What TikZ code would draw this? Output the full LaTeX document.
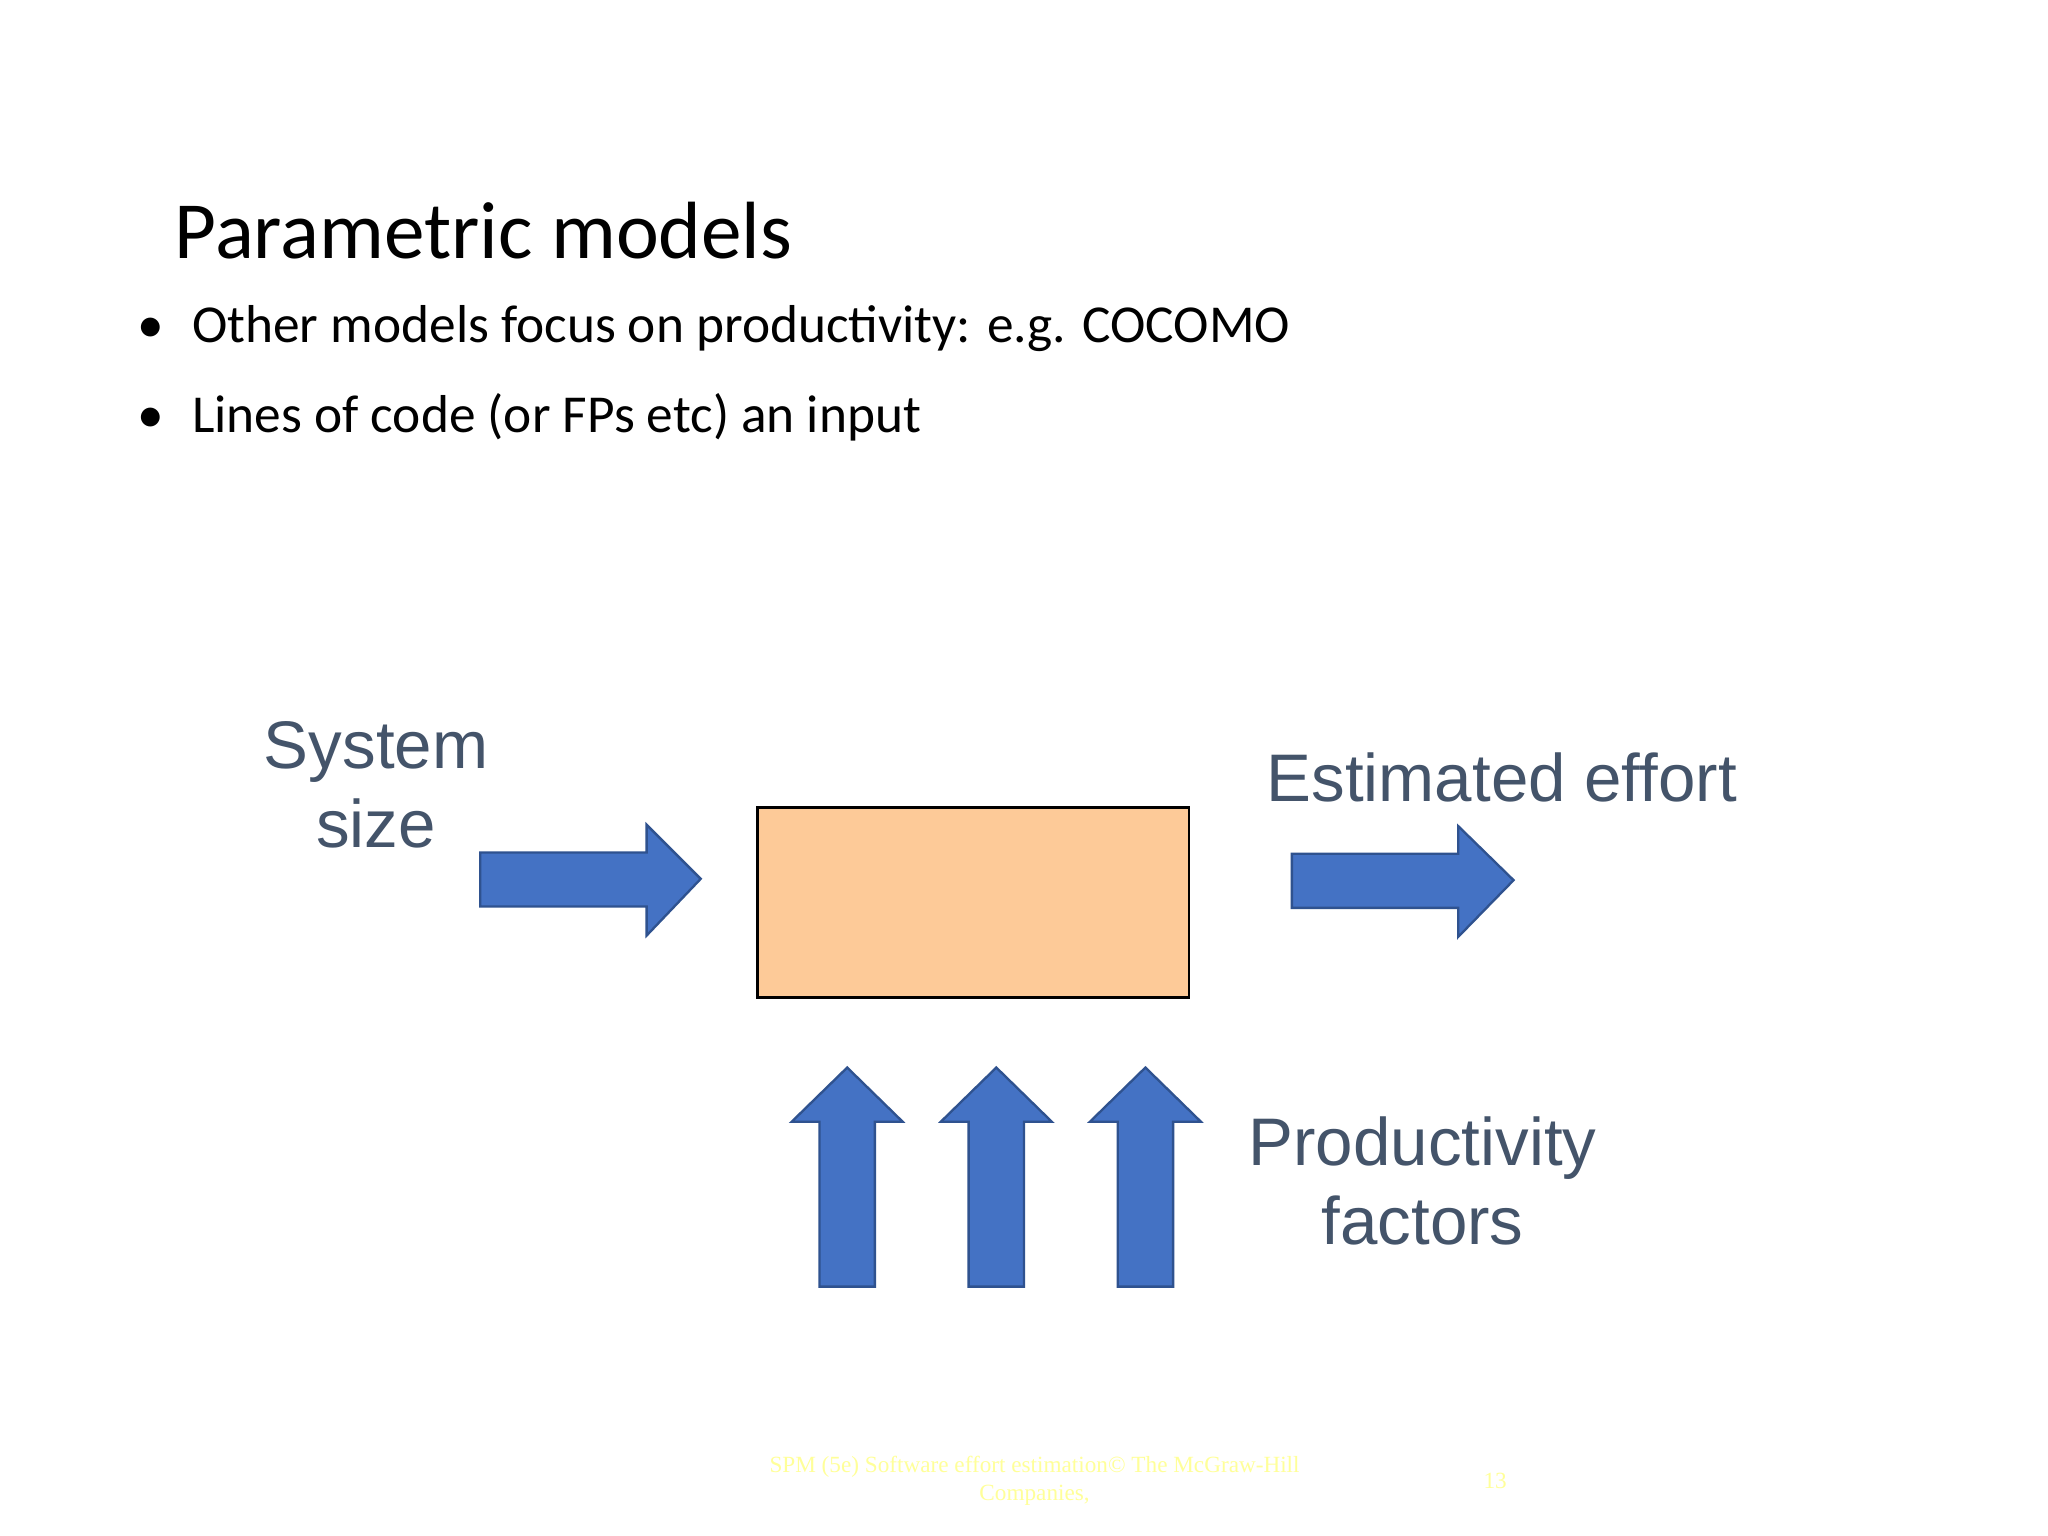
\documentclass[tikz,border=0pt]{standalone}
\usepackage{fontspec}
\setmainfont{Carlito}
\newfontfamily\arialf{Liberation Sans}
\newfontfamily\timesf{Liberation Serif}
\definecolor{blu}{HTML}{4472C4}
\definecolor{bdr}{HTML}{2F528F}
\definecolor{lbl}{HTML}{44546A}
\definecolor{peach}{HTML}{FDCA98}
\definecolor{foot}{HTML}{FFFF99}
\begin{document}
\begin{tikzpicture}[x=0.01cm,y=-0.01cm,
  arr/.style={fill=blu,draw=bdr,line width=0.5pt},
  lab/.style={font=\arialf\fontsize{14.5}{17}\selectfont,text=lbl,align=center},
  bul/.style={font=\fontsize{11.5}{14}\selectfont,anchor=west}]
\fill[white] (0,0) rectangle (1552,1164);
\node[anchor=west,font=\fontsize{17.5}{20}\selectfont] (title) at (120,175) {Parametric models};
\node[bul] (b1) at (92,249) {\textbullet\hspace{6pt}Other models focus on productivity: e.g. COCOMO};
\node[bul] (b2) at (92,316) {\textbullet\hspace{6pt}Lines of code (or FPs etc) an input};
\node[draw=black,fill=peach,line width=0.5pt,minimum width=327*0.01cm,minimum height=144*0.01cm,inner sep=0] (box) at (737.5,684) {};
\draw[arr] (364,646)--(490,646)--(490,625)--(531,666)--(490,709)--(490,687)--(364,687)--cycle;
\draw[arr] (979,647)--(1105,647)--(1105,626)--(1147,667)--(1105,710)--(1105,688)--(979,688)--cycle;
\foreach \c in {642,755,868}{
 \draw[arr] (\c-21,975)--(\c-21,850)--(\c-42,850)--(\c,809)--(\c+42,850)--(\c+21,850)--(\c+21,975)--cycle;}
\node[lab] (ss) at (285,595) {System\\size};
\node[lab] (ee) at (1138,589) {Estimated effort};
\node[lab] (pf) at (1078,895) {Productivity\\factors};
\node[font=\timesf\fontsize{5}{6}\selectfont,text=foot,align=center] (ft) at (784,1122) {SPM (5e) Software effort estimation© The McGraw-Hill\\Companies,};
\node[font=\timesf\fontsize{5}{6}\selectfont,text=foot] (pg) at (1133,1122) {13};
\end{tikzpicture}
\end{document}
